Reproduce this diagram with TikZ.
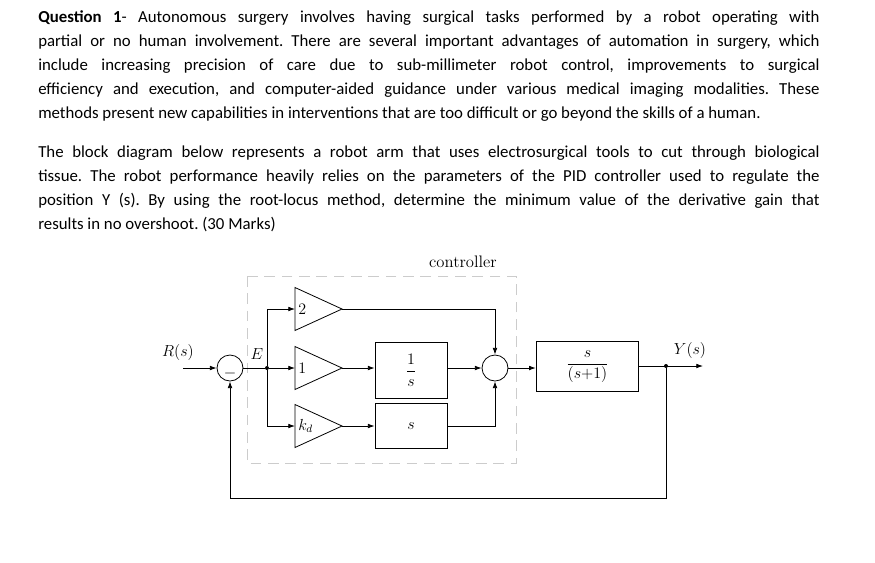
\documentclass[tikz,border=0pt]{standalone}
\usepackage{fontspec}
\newfontfamily\bodyfont{Carlito}
\usetikzlibrary{arrows.meta,positioning,calc}
\tikzset{
    >=Latex,
    sig/.style={->,>={Latex[length=5pt,width=3.5pt]},line width=.6pt},
    wire/.style={line width=.6pt},
    block/.style={draw,rectangle,line width=.6pt,inner sep=0pt},
    sumnode/.style={draw,circle,line width=.6pt,minimum size=19.5pt,inner sep=0pt},
    dot/.style={circle,fill,inner sep=0pt,minimum size=3pt},
    para/.style={anchor=north west,inner sep=0pt,text width=586pt,align=justify,
        font=\bodyfont\fontsize{12.6pt}{18pt}\selectfont\frenchspacing},
}
\newcommand{\Gain}[4]{% name, left x, centre y, label
    \draw[wire] (#2,#3-21.5) -- (#2+47,#3) -- (#2,#3+21.5) -- cycle;
    \coordinate (#1-in) at (#2,#3);
    \coordinate (#1-out) at (#2+47,#3);
    \node[anchor=west,inner sep=0pt] (#1) at (#2+3,#3) {\large #4};
}
\begin{document}
\begin{tikzpicture}[x=0.75pt,y=-0.75pt]
    \useasboundingbox (0,0) rectangle (875,562);

    % Question text
    \node[para] (q1) at (38,10) {%
        \textbf{Question 1}- Autonomous surgery involves having surgical tasks performed by a robot operating with\linebreak
        partial or no human involvement. There are several important advantages of automation in surgery, which\linebreak
        include increasing precision of care due to sub-millimeter robot control, improvements to surgical\linebreak
        efficiency and execution, and computer-aided guidance under various medical imaging modalities. These\linebreak
        methods present new capabilities in interventions that are too difficult or go beyond the skills of a human.};
    \node[para] (q2) at (38,146) {%
        The block diagram below represents a robot arm that uses electrosurgical tools to cut through biological\linebreak
        tissue. The robot performance heavily relies on the parameters of the PID controller used to regulate the\linebreak
        position Y (s). By using the root-locus method, determine the minimum value of the derivative gain that\linebreak
        results in no overshoot. (30 Marks)};

    \begin{scope}[font=\fontsize{12.5pt}{15pt}\selectfont]
    % Controller frame
    \draw[gray!40,line width=.6pt,dash pattern=on 8pt off 5pt] (247,276) rectangle (516,463);
    \node (ctrl) at (463,262) {controller};

    % Summing junctions
    \node[sumnode] (sum1) at (230,368) {};
    \node at ($(sum1)+(0,5)$) {$-$};
    \node[sumnode] (sum2) at (495,368) {};
    \coordinate (rin) at (183,368);
    \node (R) at (178,352) {$R(s)$};
    \node (E) at (257,354) {$E$};
    \node[dot] (split) at (267,368) {};

    % Gains and blocks
    \Gain{gp}{295}{309}{$2$}
    \Gain{gi}{295}{368}{$1$}
    \Gain{gd}{295}{426}{$k_d$}
    \node[block,minimum width=54pt,minimum height=42pt] (integ) at (411,370) {\large$\displaystyle\frac{1}{s}$};
    \node[block,minimum width=54pt,minimum height=34pt] (deriv) at (411,426) {$s$};
    \node[block,minimum width=77pt,minimum height=37pt] (plant) at (587.5,366.5) {$\displaystyle\frac{s}{(s{+}1)}$};
    \node[dot] (tap) at (666,366) {};
    \coordinate (yout) at (703,366);
    \node (Y) at (690,350) {$Y(s)$};

    % Signals
    \draw[sig] (rin) -- (sum1);
    \draw[wire] (sum1) -- (split);
    \draw[sig] (split) |- (gp-in);
    \draw[sig] (split) -- (gi-in);
    \draw[sig] (split) |- (gd-in);
    \draw[sig] (gi-out) -- (integ.west |- gi-out);
    \draw[sig] (gd-out) -- (deriv.west |- gd-out);
    \draw[sig] (gp-out) -| (sum2.north);
    \draw[sig] (integ.east |- sum2) -- (sum2);
    \draw[sig] (deriv.east) -| (sum2.south);
    \draw[sig] (sum2) -- (plant.west |- sum2);
    \draw[sig] (plant.east |- tap) -- (yout);
    \draw[sig] (tap) -- (666,498) -| (sum1.south);
    \end{scope}
\end{tikzpicture}
\end{document}
